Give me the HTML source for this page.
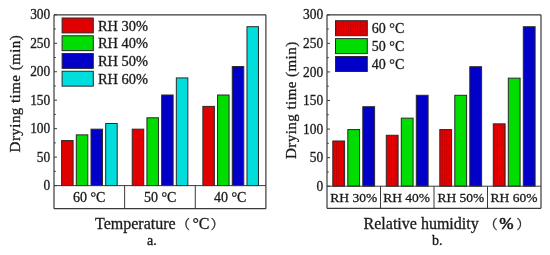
<!DOCTYPE html>
<html><head><meta charset="utf-8"><style>
html,body{margin:0;padding:0;background:#fff;width:550px;height:255px;overflow:hidden}
svg{display:block}
text{font-family:'Liberation Serif','Times New Roman',serif;fill:#1a1a1a;stroke:#1a1a1a;stroke-width:0.3px}
</style></head><body>
<svg width="550" height="255" viewBox="0 0 550 255">
<defs><pattern id="chk" width="2.4" height="2.4" patternUnits="userSpaceOnUse"><rect width="2.4" height="2.4" fill="#f00000" stroke="none"/><rect width="0.7" height="2.4" fill="#b80000" stroke="none"/><rect width="2.4" height="0.6" fill="#d00000" stroke="none"/></pattern></defs>
<rect x="61.60" y="140.55" width="11.50" height="45.05" fill="#e00000" stroke="#2a2a2a" stroke-width="1.0"/>
<rect x="76.30" y="134.86" width="11.50" height="50.74" fill="#00dd00" stroke="#2a2a2a" stroke-width="1.0"/>
<rect x="91.00" y="129.17" width="11.50" height="56.43" fill="#0000c8" stroke="#2a2a2a" stroke-width="1.0"/>
<rect x="105.70" y="123.47" width="11.50" height="62.13" fill="#00dddd" stroke="#2a2a2a" stroke-width="1.0"/>
<rect x="132.23" y="129.17" width="11.50" height="56.43" fill="#e00000" stroke="#2a2a2a" stroke-width="1.0"/>
<rect x="146.93" y="117.78" width="11.50" height="67.82" fill="#00dd00" stroke="#2a2a2a" stroke-width="1.0"/>
<rect x="161.63" y="95.01" width="11.50" height="90.59" fill="#0000c8" stroke="#2a2a2a" stroke-width="1.0"/>
<rect x="176.33" y="77.93" width="11.50" height="107.67" fill="#00dddd" stroke="#2a2a2a" stroke-width="1.0"/>
<rect x="202.87" y="106.39" width="11.50" height="79.21" fill="#e00000" stroke="#2a2a2a" stroke-width="1.0"/>
<rect x="217.57" y="95.01" width="11.50" height="90.59" fill="#00dd00" stroke="#2a2a2a" stroke-width="1.0"/>
<rect x="232.27" y="66.54" width="11.50" height="119.06" fill="#0000c8" stroke="#2a2a2a" stroke-width="1.0"/>
<rect x="246.97" y="26.69" width="11.50" height="158.91" fill="#00dddd" stroke="#2a2a2a" stroke-width="1.0"/>
<line x1="54.00" y1="14.80" x2="265.90" y2="14.80" stroke="#3a3a3a" stroke-width="1.2"/>
<line x1="54.00" y1="14.80" x2="54.00" y2="208.70" stroke="#3a3a3a" stroke-width="1.2"/>
<line x1="265.90" y1="14.80" x2="265.90" y2="208.70" stroke="#3a3a3a" stroke-width="1.2"/>
<line x1="54.00" y1="208.70" x2="265.90" y2="208.70" stroke="#3a3a3a" stroke-width="1.2"/>
<line x1="54.00" y1="185.60" x2="265.90" y2="185.60" stroke="#3a3a3a" stroke-width="1.0"/>
<line x1="124.63" y1="185.60" x2="124.63" y2="208.70" stroke="#3a3a3a" stroke-width="1.0"/>
<line x1="195.27" y1="185.60" x2="195.27" y2="208.70" stroke="#3a3a3a" stroke-width="1.0"/>
<line x1="54.00" y1="185.60" x2="57.00" y2="185.60" stroke="#3a3a3a" stroke-width="1.0"/>
<line x1="54.00" y1="171.37" x2="55.80" y2="171.37" stroke="#3a3a3a" stroke-width="1.0"/>
<line x1="54.00" y1="157.13" x2="57.00" y2="157.13" stroke="#3a3a3a" stroke-width="1.0"/>
<line x1="54.00" y1="142.90" x2="55.80" y2="142.90" stroke="#3a3a3a" stroke-width="1.0"/>
<line x1="54.00" y1="128.67" x2="57.00" y2="128.67" stroke="#3a3a3a" stroke-width="1.0"/>
<line x1="54.00" y1="114.43" x2="55.80" y2="114.43" stroke="#3a3a3a" stroke-width="1.0"/>
<line x1="54.00" y1="100.20" x2="57.00" y2="100.20" stroke="#3a3a3a" stroke-width="1.0"/>
<line x1="54.00" y1="85.97" x2="55.80" y2="85.97" stroke="#3a3a3a" stroke-width="1.0"/>
<line x1="54.00" y1="71.73" x2="57.00" y2="71.73" stroke="#3a3a3a" stroke-width="1.0"/>
<line x1="54.00" y1="57.50" x2="55.80" y2="57.50" stroke="#3a3a3a" stroke-width="1.0"/>
<line x1="54.00" y1="43.27" x2="57.00" y2="43.27" stroke="#3a3a3a" stroke-width="1.0"/>
<line x1="54.00" y1="29.03" x2="55.80" y2="29.03" stroke="#3a3a3a" stroke-width="1.0"/>
<line x1="54.00" y1="14.80" x2="57.00" y2="14.80" stroke="#3a3a3a" stroke-width="1.0"/>
<text transform="translate(50.30,190.20) scale(0.96,1)" font-size="14" text-anchor="end">0</text>
<text transform="translate(50.30,161.73) scale(0.96,1)" font-size="14" text-anchor="end">50</text>
<text transform="translate(50.30,133.27) scale(0.96,1)" font-size="14" text-anchor="end">100</text>
<text transform="translate(50.30,104.80) scale(0.96,1)" font-size="14" text-anchor="end">150</text>
<text transform="translate(50.30,76.33) scale(0.96,1)" font-size="14" text-anchor="end">200</text>
<text transform="translate(50.30,47.87) scale(0.96,1)" font-size="14" text-anchor="end">250</text>
<text transform="translate(50.30,19.40) scale(0.96,1)" font-size="14" text-anchor="end">300</text>
<rect x="62.10" y="18.00" width="31.20" height="14.90" fill="#e00000" stroke="#2a2a2a" stroke-width="1.0"/>
<text transform="translate(98.00,30.50) scale(1.03,1)" font-size="14" text-anchor="start">RH 30%</text>
<rect x="62.10" y="35.75" width="31.20" height="14.90" fill="#00dd00" stroke="#2a2a2a" stroke-width="1.0"/>
<text transform="translate(98.00,48.20) scale(1.03,1)" font-size="14" text-anchor="start">RH 40%</text>
<rect x="62.10" y="53.50" width="31.20" height="14.90" fill="#0000c8" stroke="#2a2a2a" stroke-width="1.0"/>
<text transform="translate(98.00,65.90) scale(1.03,1)" font-size="14" text-anchor="start">RH 50%</text>
<rect x="62.10" y="71.25" width="31.20" height="14.90" fill="#00dddd" stroke="#2a2a2a" stroke-width="1.0"/>
<text transform="translate(98.00,83.60) scale(1.03,1)" font-size="14" text-anchor="start">RH 60%</text>
<text transform="translate(73.00,202.40) scale(1.0,1)" font-size="14" text-anchor="start">60 °C</text>
<text transform="translate(144.00,202.40) scale(1.0,1)" font-size="14" text-anchor="start">50 °C</text>
<text transform="translate(214.00,202.40) scale(1.0,1)" font-size="14" text-anchor="start">40 °C</text>
<rect x="332.80" y="140.99" width="11.80" height="45.21" fill="url(#chk)" stroke="#2a2a2a" stroke-width="1.0"/>
<rect x="347.80" y="129.57" width="11.80" height="56.63" fill="#00dd00" stroke="#2a2a2a" stroke-width="1.0"/>
<rect x="362.80" y="106.71" width="11.80" height="79.49" fill="#0000c8" stroke="#2a2a2a" stroke-width="1.0"/>
<rect x="386.30" y="135.28" width="11.80" height="50.92" fill="url(#chk)" stroke="#2a2a2a" stroke-width="1.0"/>
<rect x="401.30" y="118.14" width="11.80" height="68.06" fill="#00dd00" stroke="#2a2a2a" stroke-width="1.0"/>
<rect x="416.30" y="95.29" width="11.80" height="90.91" fill="#0000c8" stroke="#2a2a2a" stroke-width="1.0"/>
<rect x="439.80" y="129.57" width="11.80" height="56.63" fill="url(#chk)" stroke="#2a2a2a" stroke-width="1.0"/>
<rect x="454.80" y="95.29" width="11.80" height="90.91" fill="#00dd00" stroke="#2a2a2a" stroke-width="1.0"/>
<rect x="469.80" y="66.72" width="11.80" height="119.48" fill="#0000c8" stroke="#2a2a2a" stroke-width="1.0"/>
<rect x="493.30" y="123.85" width="11.80" height="62.35" fill="url(#chk)" stroke="#2a2a2a" stroke-width="1.0"/>
<rect x="508.30" y="78.15" width="11.80" height="108.05" fill="#00dd00" stroke="#2a2a2a" stroke-width="1.0"/>
<rect x="523.30" y="26.73" width="11.80" height="159.47" fill="#0000c8" stroke="#2a2a2a" stroke-width="1.0"/>
<line x1="327.00" y1="14.80" x2="541.00" y2="14.80" stroke="#3a3a3a" stroke-width="1.2"/>
<line x1="327.00" y1="14.80" x2="327.00" y2="208.30" stroke="#3a3a3a" stroke-width="1.2"/>
<line x1="541.00" y1="14.80" x2="541.00" y2="208.30" stroke="#3a3a3a" stroke-width="1.2"/>
<line x1="327.00" y1="208.30" x2="541.00" y2="208.30" stroke="#3a3a3a" stroke-width="1.2"/>
<line x1="327.00" y1="186.20" x2="541.00" y2="186.20" stroke="#3a3a3a" stroke-width="1.0"/>
<line x1="380.50" y1="186.20" x2="380.50" y2="208.30" stroke="#3a3a3a" stroke-width="1.0"/>
<line x1="434.00" y1="186.20" x2="434.00" y2="208.30" stroke="#3a3a3a" stroke-width="1.0"/>
<line x1="487.50" y1="186.20" x2="487.50" y2="208.30" stroke="#3a3a3a" stroke-width="1.0"/>
<line x1="327.00" y1="186.20" x2="330.00" y2="186.20" stroke="#3a3a3a" stroke-width="1.0"/>
<line x1="327.00" y1="171.92" x2="328.80" y2="171.92" stroke="#3a3a3a" stroke-width="1.0"/>
<line x1="327.00" y1="157.63" x2="330.00" y2="157.63" stroke="#3a3a3a" stroke-width="1.0"/>
<line x1="327.00" y1="143.35" x2="328.80" y2="143.35" stroke="#3a3a3a" stroke-width="1.0"/>
<line x1="327.00" y1="129.07" x2="330.00" y2="129.07" stroke="#3a3a3a" stroke-width="1.0"/>
<line x1="327.00" y1="114.78" x2="328.80" y2="114.78" stroke="#3a3a3a" stroke-width="1.0"/>
<line x1="327.00" y1="100.50" x2="330.00" y2="100.50" stroke="#3a3a3a" stroke-width="1.0"/>
<line x1="327.00" y1="86.22" x2="328.80" y2="86.22" stroke="#3a3a3a" stroke-width="1.0"/>
<line x1="327.00" y1="71.93" x2="330.00" y2="71.93" stroke="#3a3a3a" stroke-width="1.0"/>
<line x1="327.00" y1="57.65" x2="328.80" y2="57.65" stroke="#3a3a3a" stroke-width="1.0"/>
<line x1="327.00" y1="43.37" x2="330.00" y2="43.37" stroke="#3a3a3a" stroke-width="1.0"/>
<line x1="327.00" y1="29.08" x2="328.80" y2="29.08" stroke="#3a3a3a" stroke-width="1.0"/>
<line x1="327.00" y1="14.80" x2="330.00" y2="14.80" stroke="#3a3a3a" stroke-width="1.0"/>
<text transform="translate(323.20,190.80) scale(0.96,1)" font-size="14" text-anchor="end">0</text>
<text transform="translate(323.20,162.23) scale(0.96,1)" font-size="14" text-anchor="end">50</text>
<text transform="translate(323.20,133.67) scale(0.96,1)" font-size="14" text-anchor="end">100</text>
<text transform="translate(323.20,105.10) scale(0.96,1)" font-size="14" text-anchor="end">150</text>
<text transform="translate(323.20,76.53) scale(0.96,1)" font-size="14" text-anchor="end">200</text>
<text transform="translate(323.20,47.97) scale(0.96,1)" font-size="14" text-anchor="end">250</text>
<text transform="translate(323.20,19.40) scale(0.96,1)" font-size="14" text-anchor="end">300</text>
<rect x="335.50" y="20.70" width="31.80" height="15.00" fill="url(#chk)" stroke="#2a2a2a" stroke-width="1.0"/>
<text transform="translate(371.80,33.40) scale(1.0,1)" font-size="14" text-anchor="start">60 °C</text>
<rect x="335.50" y="38.60" width="31.80" height="15.00" fill="#00dd00" stroke="#2a2a2a" stroke-width="1.0"/>
<text transform="translate(371.80,51.00) scale(1.0,1)" font-size="14" text-anchor="start">50 °C</text>
<rect x="335.50" y="56.50" width="31.80" height="15.00" fill="#0000c8" stroke="#2a2a2a" stroke-width="1.0"/>
<text transform="translate(371.80,68.60) scale(1.0,1)" font-size="14" text-anchor="start">40 °C</text>
<text transform="translate(330.30,201.80) scale(1.0,1)" font-size="13.5" text-anchor="start">RH 30%</text>
<text transform="translate(383.20,201.80) scale(1.0,1)" font-size="13.5" text-anchor="start">RH 40%</text>
<text transform="translate(437.40,201.80) scale(1.0,1)" font-size="13.5" text-anchor="start">RH 50%</text>
<text transform="translate(490.60,201.80) scale(1.0,1)" font-size="13.5" text-anchor="start">RH 60%</text>
<text x="95.00" y="228.70" font-size="16" >Temperature</text>
<text x="177.10" y="228.50" font-size="13" style="font-family:'Liberation Serif','Noto Serif CJK SC',serif">（</text>
<text x="192.40" y="228.70" font-size="16" >°C</text>
<text x="210.70" y="228.50" font-size="13" style="font-family:'Liberation Serif','Noto Serif CJK SC',serif">）</text>
<text x="363.60" y="228.80" font-size="16" >Relative humidity</text>
<text x="484.50" y="228.50" font-size="13" style="font-family:'Liberation Serif','Noto Serif CJK SC',serif">（</text>
<text x="499.30" y="229.40" font-size="17.2" style="stroke-width:0.6px">%</text>
<text x="516.40" y="228.50" font-size="13" style="font-family:'Liberation Serif','Noto Serif CJK SC',serif">）</text>
<text x="147.00" y="245.40" font-size="14" >a.</text>
<text x="432.00" y="245.40" font-size="14" >b.</text>
<text transform="translate(20.0,152.4) rotate(-90)" font-size="15" letter-spacing="0.45">Drying time (min)</text>
<text transform="translate(295.6,159.0) rotate(-90)" font-size="15" letter-spacing="0.45">Drying time (min)</text>
</svg>
</body></html>
